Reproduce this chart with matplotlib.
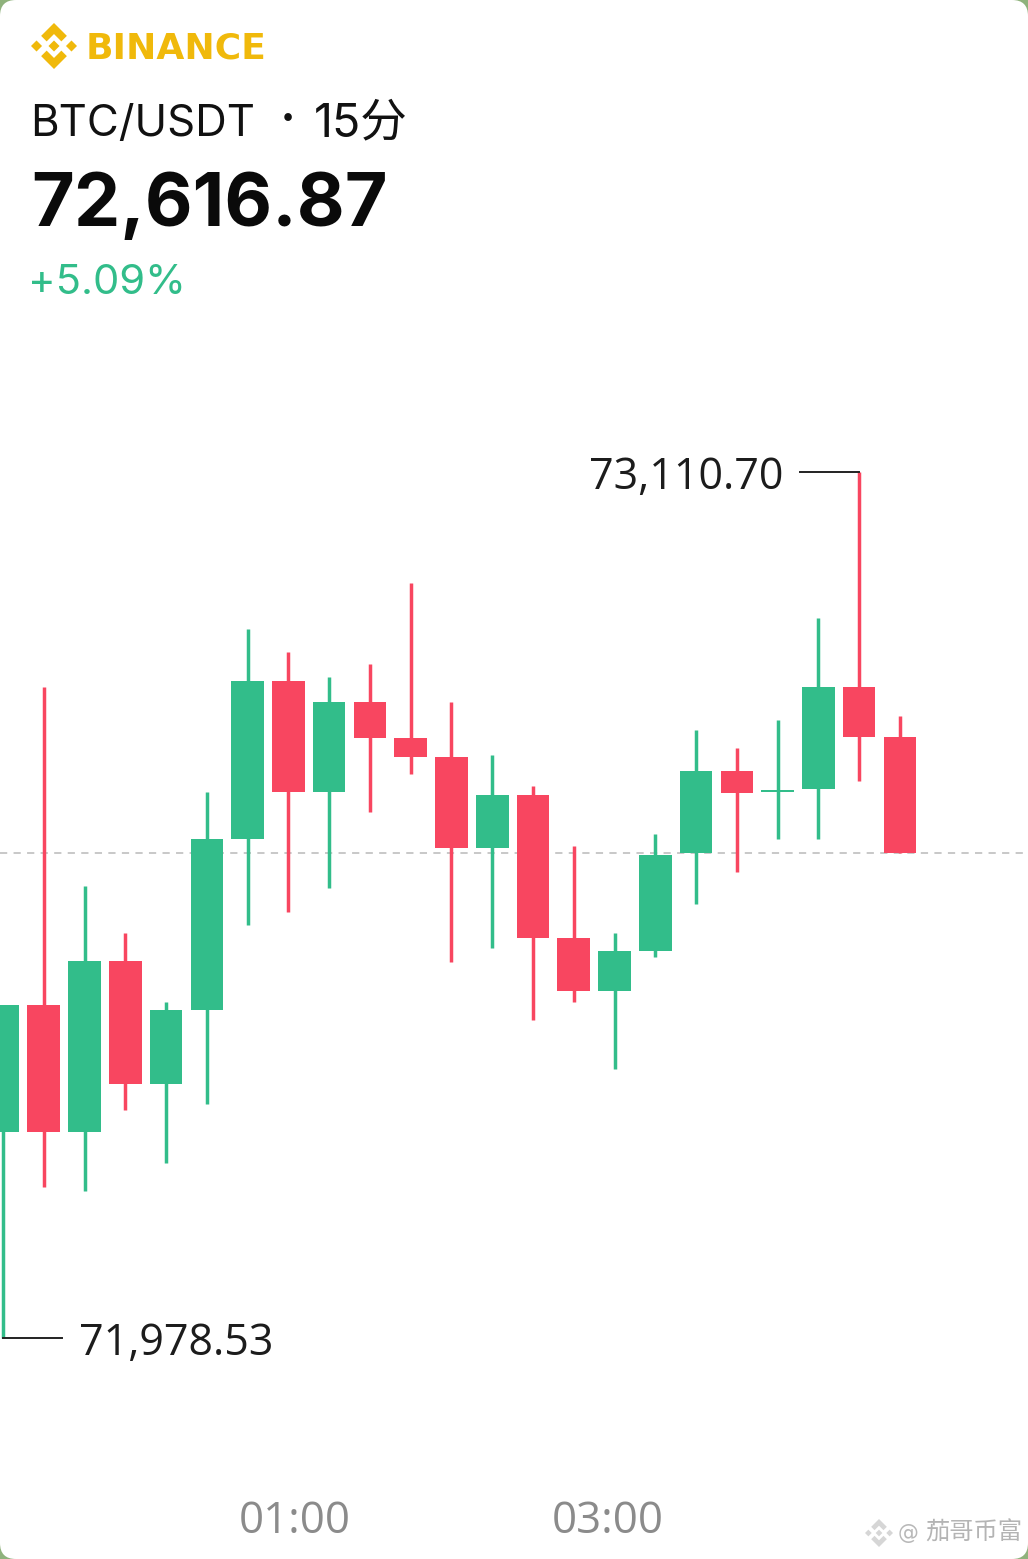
import matplotlib
matplotlib.use('Agg')
import matplotlib.pyplot as plt
from matplotlib.patches import FancyBboxPatch, Polygon

plt.rcParams['font.family'] = ['Open Sans', 'Noto Sans CJK SC', 'DejaVu Sans']

# candles, oldest first
opens = [72247.8, 72413.9, 72247.8, 72471.4, 72310.6, 72407.3, 72630.9, 72837.5,
         72692.3, 72810.0, 72762.9, 72738.1, 72619.1, 72688.4, 72501.5, 72432.2,
         72484.5, 72612.6, 72719.8, 72692.3, 72696.3, 72829.6, 72764.2]
closes = [72413.9, 72247.8, 72471.4, 72310.6, 72407.3, 72630.9, 72837.5, 72692.3,
          72810.0, 72762.9, 72738.1, 72619.1, 72688.4, 72501.5, 72432.2, 72484.5,
          72610.0, 72719.8, 72691.0, 72695.0, 72829.6, 72764.2, 72612.6]
highs = [72413.9, 72829.6, 72569.5, 72508.0, 72417.8, 72692.3, 72905.4, 72875.4,
         72842.7, 72859.7, 72965.6, 72810.0, 72740.7, 72700.2, 72621.7, 72508.0,
         72637.4, 72773.4, 72749.9, 72786.5, 72919.8, 73110.70, 72791.7]
lows = [71978.53, 72175.9, 72170.7, 72276.6, 72207.3, 72284.4, 72518.5, 72535.5,
        72566.8, 72666.2, 72715.9, 72470.1, 72488.4, 72394.3, 72417.8, 72330.2,
        72476.6, 72545.9, 72587.7, 72630.9, 72630.9, 72706.7, 72612.6]
last_line = 72612.6
high_label = '73,110.70'
low_label = '71,978.53'
time_labels = ['01:00', '03:00']
time_pos = [7.16, 14.84]

W, H = 1028, 1559
GREEN = '#32BD8A'
RED = '#F84660'
YELLOW = '#F0B90B'
HEAD_FONT = ['Inter', 'Noto Sans CJK SC', 'DejaVu Sans']
px_per_price = 866 / (73110.70 - 71978.53)
px_per_candle = 40.77

fig = plt.figure(figsize=(W / 100, H / 100), dpi=100, facecolor='#8FB27C')

# pixel overlay for card, header and labels
ov = fig.add_axes([0, 0, 1, 1], zorder=1)
ov.set_xlim(0, W)
ov.set_ylim(H, 0)
ov.axis('off')
ov.add_patch(FancyBboxPatch((16, 16), W - 32, H - 32, boxstyle='round,pad=16,rounding_size=16',
                            fc='white', ec='none'))

# price chart
ax = fig.add_axes([0, 0, 1, 1], zorder=2)
ax.patch.set_alpha(0)
ax.axis('off')
ax.set_xlim(-3 / px_per_candle, (W - 3) / px_per_candle)
ax.set_ylim(73110.70 - (H - 472) / px_per_price, 73110.70 + 472 / px_per_price)

ax.axhline(last_line, color='#c4c4c4', lw=1.3, dashes=(4, 3.5), zorder=1)
for i in range(len(opens)):
    c = GREEN if closes[i] >= opens[i] else RED
    ax.vlines(i, lows[i], highs[i], color=c, lw=2.5, zorder=2)
    body = abs(closes[i] - opens[i])
    ax.bar(i, body, bottom=min(opens[i], closes[i]), width=0.8, color=c, zorder=3)

# extreme labels
ax.plot([19.55, 21], [max(highs), max(highs)], color='#222222', lw=1.4, zorder=2)
ax.plot([0, 1.45], [min(lows), min(lows)], color='#222222', lw=1.4, zorder=2)
ax.text(19.15, max(highs), high_label, ha='right', va='center_baseline', fontsize=31, color='#1c1c1c')
ax.text(1.87, min(lows), low_label, ha='left', va='center_baseline', fontsize=31, color='#1c1c1c')
for p, t in zip(time_pos, time_labels):
    ov.text(p * px_per_candle + 3, 1516, t, ha='center', va='center_baseline', fontsize=31.5, color='#8b8b8b')

# header
ov.text(86, 58, 'BINANCE', fontsize=26, fontweight='bold', color=YELLOW, va='baseline', family=['DejaVu Sans'])
ov.text(30, 136, 'BTC/USDT', fontsize=31.5, color='#111111', va='baseline', family=HEAD_FONT)
ov.text(288, 121, '・', fontsize=26, color='#111111', ha='center', va='center', family=['Noto Sans CJK SC'])
ov.text(314, 136, '15分', fontsize=33.5, color='#111111', va='baseline', family=HEAD_FONT)
ov.text(31, 226, '72,616.87', fontsize=53, fontweight='bold', color='#0a0a0a', va='baseline', family=HEAD_FONT)
ov.text(28, 294, '+5.09%', fontsize=30, color=GREEN, va='baseline', family=HEAD_FONT)


# binance logo
def logo(cx, cy, r, color, zorder=3):
    shapes = [
        [(0, -0.24), (0.24, 0), (0, 0.24), (-0.24, 0)],
        [(-0.76, -0.24), (-0.52, 0), (-0.76, 0.24), (-1, 0)],
        [(0.76, -0.24), (1, 0), (0.76, 0.24), (0.52, 0)],
        [(0, -1), (0.56, -0.44), (0.32, -0.2), (0, -0.52), (-0.32, -0.2), (-0.56, -0.44)],
        [(0, 1), (0.56, 0.44), (0.32, 0.2), (0, 0.52), (-0.32, 0.2), (-0.56, 0.44)],
    ]
    for s in shapes:
        ov.add_patch(Polygon([(cx + x * r, cy + y * r) for x, y in s], fc=color, ec='none', zorder=zorder))


logo(54, 46, 23, YELLOW)

# watermark
logo(879, 1533, 14, '#d6d6d6')
ov.text(898, 1533, '@', fontsize=15, color='#b8b8b8', va='center', family=['DejaVu Sans'])
ov.text(925, 1533, '茄哥币富', fontsize=17.5, color='#b4b4b4', va='center', family=['Noto Sans CJK SC'])

fig.savefig('out.png', dpi=100, facecolor=fig.get_facecolor())
